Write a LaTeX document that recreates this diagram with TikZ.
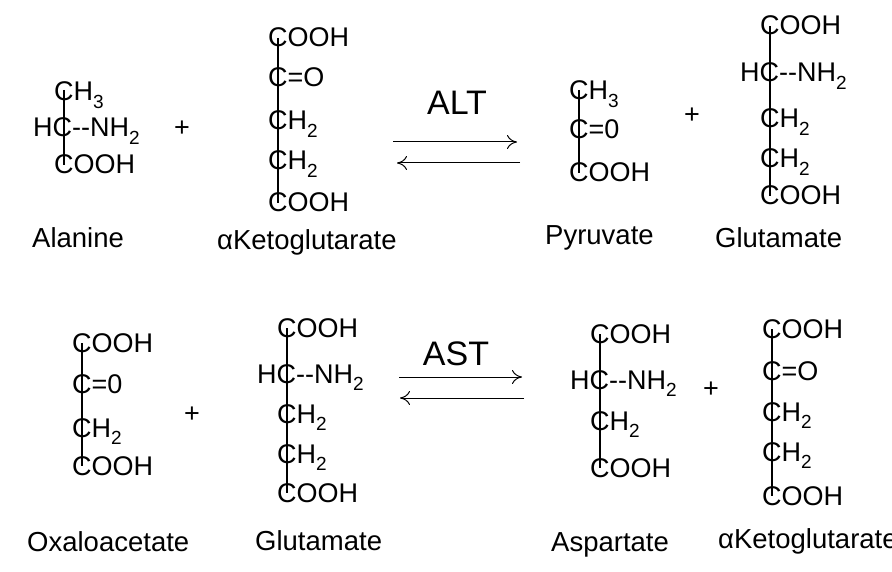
\documentclass[tikz,border=0pt]{standalone}
\usepackage{fontspec}
\setmainfont{Liberation Sans}
\usetikzlibrary{arrows.meta}
\newcommand{\mysub}[1]{\raisebox{-0.28em}{\fontsize{19}{20}\selectfont #1}}
\newcommand{\dd}{-{}-}
\begin{document}
\begin{tikzpicture}[x=1pt,y=-1pt,
  t/.style={anchor=base west,inner sep=0pt,font=\fontsize{27}{30}\selectfont},
  lbl/.style={anchor=base west,inner sep=0pt,font=\fontsize{27.5}{30}\selectfont},
  rlbl/.style={anchor=base,inner sep=0pt,font=\fontsize{34}{36}\selectfont},
  bond/.style={line width=1.4pt},
  rx/.style={line width=1pt,-{To[length=10pt,width=14pt,line width=1pt]}}]
\useasboundingbox (0,0) rectangle (892,572);
\clip (0,0) rectangle (892,572);
% Alanine
\node[t] (a1) at (54,101) {CH\mysub{3}};
\node[t] (a2) at (33,137) {HC\dd NH\mysub{2}};
\node[t] (a3) at (54,174) {COOH};
\draw[bond] (64,90) -- (64,165);
\node[lbl] (la) at (32,248) {Alanine};
\node[t] (p1) at (174,137) {+};
% aKetoglutarate
\node[t] (k1) at (268,47) {COOH};
\node[t] (k2) at (268,87) {C=O};
\node[t] (k3) at (268,130) {CH\mysub{2}};
\node[t] (k4) at (268,170) {CH\mysub{2}};
\node[t] (k5) at (268,212) {COOH};
\draw[bond] (278,38) -- (278,203);
\node[lbl] (lk) at (217,250) {αKetoglutarate};
% ALT
\node[rlbl] (alt) at (457,115) {ALT};
\coordinate (r1s) at (393,142); \coordinate (r1e) at (517,142);
\coordinate (r2s) at (520,163); \coordinate (r2e) at (397,163);
\draw[rx] (r1s) -- (r1e);
\draw[rx] (r2s) -- (r2e);
% Pyruvate
\node[t] (y1) at (569,100) {CH\mysub{3}};
\node[t] (y2) at (569,139) {C=0};
\node[t] (y3) at (569,182) {COOH};
\draw[bond] (579,90) -- (579,173);
\node[lbl] (ly) at (545,245) {Pyruvate};
\node[t] (p2) at (684,124) {+};
% Glutamate top
\node[t] (g1) at (760,35) {COOH};
\node[t] (g2) at (740,82) {HC\dd NH\mysub{2}};
\node[t] (g3) at (760,128) {CH\mysub{2}};
\node[t] (g4) at (760,168) {CH\mysub{2}};
\node[t] (g5) at (760,205) {COOH};
\draw[bond] (770,26) -- (770,196);
\node[lbl] (lg) at (715,248) {Glutamate};
% Oxaloacetate
\node[t] (o1) at (72,352) {COOH};
\node[t] (o2) at (72,393) {C=0};
\node[t] (o3) at (72,437) {CH\mysub{2}};
\node[t] (o4) at (72,475) {COOH};
\draw[bond] (82,343) -- (82,466);
\node[lbl] (lo) at (27,551) {Oxaloacetate};
\node[t] (p3) at (184,422) {+};
% Glutamate bottom
\node[t] (h1) at (277,337) {COOH};
\node[t] (h2) at (257,383) {HC\dd NH\mysub{2}};
\node[t] (h3) at (277,423) {CH\mysub{2}};
\node[t] (h4) at (277,463) {CH\mysub{2}};
\node[t] (h5) at (277,502) {COOH};
\draw[bond] (287,328) -- (287,493);
\node[lbl] (lh) at (255,550) {Glutamate};
% AST
\node[rlbl] (ast) at (456,365) {AST};
\coordinate (s1s) at (399,377); \coordinate (s1e) at (522,377);
\coordinate (s2s) at (524,398); \coordinate (s2e) at (400,398);
\draw[rx] (s1s) -- (s1e);
\draw[rx] (s2s) -- (s2e);
% Aspartate
\node[t] (s1) at (590,343) {COOH};
\node[t] (s2) at (570,389) {HC\dd NH\mysub{2}};
\node[t] (s3) at (590,430) {CH\mysub{2}};
\node[t] (s4) at (590,477) {COOH};
\draw[bond] (600,334) -- (600,468);
\node[lbl] (ls) at (551,551) {Aspartate};
\node[t] (p4) at (703,397) {+};
% aKetoglutarate bottom
\node[t] (m1) at (762,338) {COOH};
\node[t] (m2) at (762,380) {C=O};
\node[t] (m3) at (762,421) {CH\mysub{2}};
\node[t] (m4) at (762,461) {CH\mysub{2}};
\node[t] (m5) at (762,505) {COOH};
\draw[bond] (772,329) -- (772,496);
\node[lbl] (lm) at (718,548) {αKetoglutarate};
\end{tikzpicture}
\end{document}
